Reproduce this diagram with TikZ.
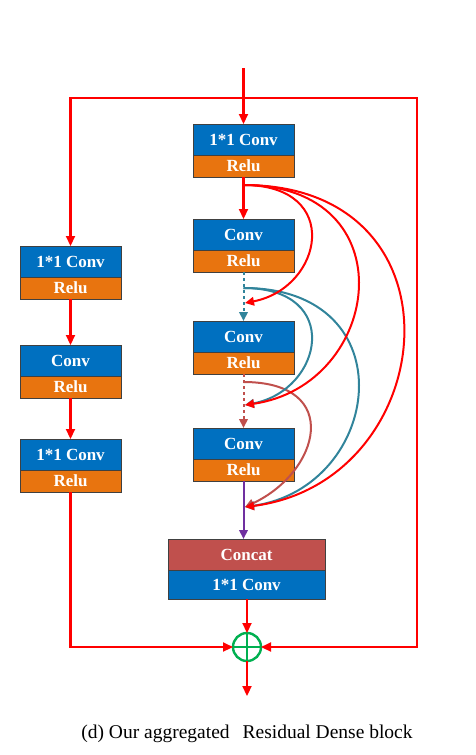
\documentclass[tikz,border=0pt]{standalone}
\usepackage{fontspec}
\setmainfont{Liberation Serif}
\usetikzlibrary{arrows.meta}
\definecolor{cblue}{HTML}{0070C0}
\definecolor{corange}{HTML}{E8740F}
\definecolor{cconcat}{HTML}{C0504D}
\definecolor{cteal}{HTML}{31849B}
\definecolor{cbrown}{HTML}{C0504D}
\definecolor{cpurple}{HTML}{7030A0}
\definecolor{cgreen}{HTML}{00B050}
\definecolor{cborder}{HTML}{404040}
\begin{document}
\begin{tikzpicture}[x=1pt,y=-1pt,
  band/.style={draw=cborder, line width=0.9pt, minimum width=101pt, inner sep=0pt, outer sep=0pt, text=white, font=\fontsize{17}{17}\selectfont\bfseries},
  convband/.style={band, fill=cblue, minimum height=31pt},
  reluband/.style={band, fill=corange, minimum height=22pt},
  tipa/.style={-{Triangle[length=10pt,width=9pt]}},
  tipb/.style={-{Triangle[length=9pt,width=8.5pt]}},
  redarrow/.style={draw=red, line width=2.2pt, tipa},
  redcurve/.style={draw=red, line width=2pt, tipb},
  tealcurve/.style={draw=cteal, line width=2pt, tipb},
  browncurve/.style={draw=cbrown, line width=2pt, tipb},
  dashline/.style={line width=2pt, dash pattern=on 3pt off 3pt, tipb},
]
\useasboundingbox (0,0) rectangle (475,755);

% center column
\node[convband] (b1c) at (243.5,139.5) {1*1 Conv};
\node[reluband] (b1r) at (243.5,166) {Relu};
\node[convband] (b2c) at (243.5,234.5) {Conv};
\node[reluband] (b2r) at (243.5,261) {Relu};
\node[convband] (b3c) at (243.5,336.5) {Conv};
\node[reluband] (b3r) at (243.5,363) {Relu};
\node[convband] (b4c) at (243.5,443.5) {Conv};
\node[reluband] (b4r) at (243.5,470) {Relu};

% left column
\node[convband] (l1c) at (70.5,261.5) {1*1 Conv};
\node[reluband] (l1r) at (70.5,288) {Relu};
\node[convband] (l2c) at (70.5,360.5) {Conv};
\node[reluband] (l2r) at (70.5,387) {Relu};
\node[convband] (l3c) at (70.5,454.5) {1*1 Conv};
\node[reluband] (l3r) at (70.5,481) {Relu};

% concat block
\node[band, fill=cconcat, minimum width=157pt, minimum height=31pt] (cc) at (246.5,554.5) {Concat};
\node[band, fill=cblue, minimum width=157pt, minimum height=29pt] (cv) at (246.5,584.5) {1*1 Conv};

% sum
\node[circle, draw=cgreen, line width=2.4pt, minimum size=28pt, inner sep=0pt, outer sep=0pt] (plus) at (247,647) {};
\draw[cgreen, line width=2.4pt] (plus.north) -- (plus.south) (plus.west) -- (plus.east);

% coordinates
\coordinate (in) at (243.5,68);
\coordinate (tl) at (70.5,98);
\coordinate (tr) at (417,98);
\coordinate (out) at (247,696);
\coordinate (s1) at (243.5,185);
\coordinate (s2) at (243.5,288);
\coordinate (s3) at (243.5,382);
\coordinate (e1) at (245,303);
\coordinate (e2) at (245,405);
\coordinate (e3) at (245,507);

% main red lines
\draw[redarrow] (in) -- (b1c.north);
\draw[redarrow] (tr) -- (tl) -- (l1c.north);
\draw[redarrow] (tl) -- (tr) -- (tr |- plus) -- (plus.east);
\draw[redarrow] (l1r.south) -- (l2c.north);
\draw[redarrow] (l2r.south) -- (l3c.north);
\draw[redarrow] (l3r.south) |- (plus.west);
\draw[redarrow] (cv.south -| plus) -- (plus.north);
\draw[redarrow] (plus.south) -- (out);

% column links
\draw[redarrow] (b1r.south) -- (b2c.north);
\draw[dashline, draw=cteal] (b2r.south) -- (b3c.north);
\draw[dashline, draw=cbrown] (b3r.south) -- (b4c.north);
\draw[line width=2pt, draw=cpurple, tipb] (b4r.south) -- (b4r.south |- cc.north);

% dense curves
\draw[browncurve] (s3) .. controls +(100,0) and +(75,-35) .. (e3);
\draw[tealcurve] (s2) .. controls +(100,0) and +(78,-15) .. (e2);
\draw[tealcurve] (s2) .. controls +(165,0) and +(138,-20) .. (e3);
\draw[redcurve] (s1) .. controls +(100,0) and +(78,-15) .. (e1);
\draw[redcurve] (s1) .. controls +(165,0) and +(138,-20) .. (e2);
\draw[redcurve] (s1) .. controls +(228,0) and +(196,-25) .. (e3);

% caption
\node[font=\fontsize{19.5}{20}\selectfont, anchor=base] (cap) at (247,738) {(d) Our aggregated\hspace{8pt} Residual Dense block};
\end{tikzpicture}
\end{document}
